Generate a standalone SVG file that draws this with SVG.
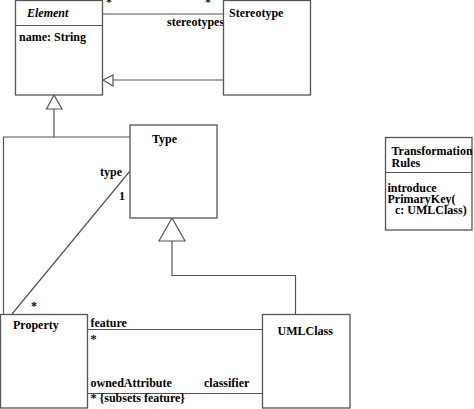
<svg xmlns="http://www.w3.org/2000/svg" width="474" height="409" viewBox="0 0 474 409">
<style>
.box{fill:#fff;stroke:#555;stroke-width:1.3}
.ln{fill:none;stroke:#555;stroke-width:1.2}
.tri{fill:#fff;stroke:#555;stroke-width:1.2}
text{font-family:"Liberation Serif","Times New Roman",serif;font-size:12px;font-weight:bold;fill:#000}
.it{font-style:italic}
</style>
<rect width="474" height="409" fill="#fff"/>
<g id="connectors">
<line class="ln" x1="103" y1="14" x2="223" y2="14"/>
<line class="ln" x1="113" y1="80" x2="223" y2="80"/>
<polygon class="tri" points="103,80 113,75 113,86"/>
<polyline class="ln" points="54,109 54,137 130,137"/>
<polyline class="ln" points="54,137 3.5,137 3.5,314"/>
<polygon class="tri" points="54,95 46.5,109 62,109"/>
<line class="ln" x1="130" y1="171" x2="12" y2="314"/>
<polyline class="ln" points="172,241 172,275.5 295.5,275.5 295.5,314"/>
<polygon class="tri" points="172,218 159,241 185,241"/>
<line class="ln" x1="88" y1="329.5" x2="262" y2="329.5"/>
<line class="ln" x1="88" y1="393.5" x2="262" y2="393.5"/>
<text x="106" y="6">*</text>
<text x="205" y="6">*</text>
<text x="167" y="26">stereotypes</text>
<text x="100" y="176">type</text>
<text x="119" y="200">1</text>
<text x="31" y="310">*</text>
<text x="90.5" y="327">feature</text>
<text x="90.5" y="343">*</text>
<text x="90.5" y="387">ownedAttribute</text>
<text x="204" y="387">classifier</text>
<text x="90.5" y="402">* {subsets feature}</text>
</g>
<g id="element">
<rect class="box" x="15.5" y="0.5" width="87" height="94.5"/>
<line class="ln" x1="15.5" y1="25.5" x2="102.5" y2="25.5"/>
<text class="it" x="27" y="17">Element</text>
<text x="19" y="41">name: String</text>
</g>
<g id="stereotype">
<rect class="box" x="223.5" y="0.5" width="87" height="94.5"/>
<text x="229" y="17">Stereotype</text>
</g>
<g id="type">
<rect class="box" x="130" y="125" width="87" height="93"/>
<text x="152" y="143">Type</text>
</g>
<g id="property">
<rect class="box" x="0.5" y="314.5" width="87" height="93.5"/>
<text x="13" y="329">Property</text>
</g>
<g id="umlclass">
<rect class="box" x="262.5" y="314.5" width="87.5" height="93.5"/>
<text x="277.5" y="335">UMLClass</text>
</g>
<g id="transformation-rules">
<rect class="box" x="385.5" y="137.5" width="86.5" height="92.5"/>
<line class="ln" x1="385.5" y1="172.5" x2="472" y2="172.5"/>
<text x="391.5" y="155">Transformation</text>
<text x="391.5" y="166.5">Rules</text>
<text x="387.5" y="191.5">introduce</text>
<text x="387.5" y="202.5">PrimaryKey(</text>
<text x="395" y="213.5">c: UMLClass)</text>
</g>
</svg>
